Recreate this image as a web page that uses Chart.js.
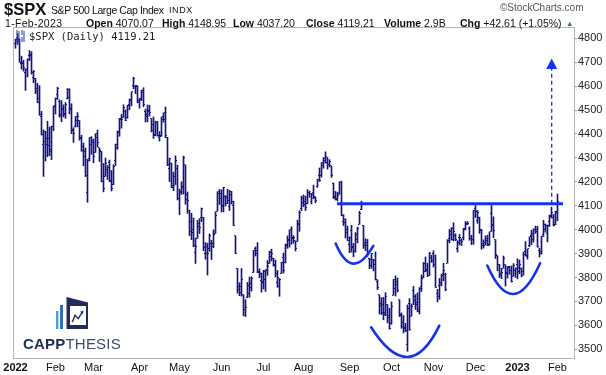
<!DOCTYPE html>
<html>
<head>
<meta charset="utf-8">
<script src="https://cdn.jsdelivr.net/npm/chart.js@4.4.1/dist/chart.umd.min.js"></script>
<style>
  html, body { margin: 0; padding: 0; background: #fff; }
  #wrap { position: relative; width: 606px; height: 375px; overflow: hidden; font-family: "Liberation Sans", Arial, sans-serif; color: #111; }
  #wrap canvas { position: absolute; left: 0; top: 0; }
  .t { position: absolute; white-space: nowrap; line-height: 1; }
  .b { font-weight: bold; }
</style>
</head>
<body>
<div id="wrap">
  <canvas id="spx" width="606" height="375"></canvas>

  <!-- en-tete -->
  <div class="t b" style="left:4px; top:1px; font-size:16.5px;">$SPX</div>
  <div class="t" style="left:51px; top:5px; font-size:10.5px; letter-spacing:-0.4px;">S&amp;P 500 Large Cap Index</div>
  <div class="t" style="left:169px; top:6px; font-size:9px; letter-spacing:0.6px;">INDX</div>
  <div class="t" style="left:500px; top:3px; font-size:10px; color:#555;">&copy;StockCharts.com</div>

  <div class="t" style="left:5px; top:18px; font-size:10.5px; letter-spacing:0.3px;">1-Feb-2023</div>
  <div class="t" style="left:86px; top:18px; font-size:10.5px;"><span class="b">Open</span> 4070.07</div>
  <div class="t" style="left:162px; top:18px; font-size:10.5px;"><span class="b">High</span> 4148.95</div>
  <div class="t" style="left:233px; top:18px; font-size:10.5px;"><span class="b">Low</span> 4037.20</div>
  <div class="t" style="left:306px; top:18px; font-size:10.5px;"><span class="b">Close</span> 4119.21</div>
  <div class="t" style="left:384px; top:18px; font-size:10.5px;"><span class="b">Volume</span> 2.9B</div>
  <div class="t" style="left:460px; top:18px; font-size:10.5px;"><span class="b">Chg</span> +42.61 (+1.05%)</div>
  <div class="t" style="left:566px; top:20px; font-size:7.5px; color:#2e8b3a;">&#9650;</div>

  <!-- legende dans le graphique -->
  <svg class="t" style="left:16px; top:30px;" width="10" height="12">
    <path d="M1 0v5M3 1v5M6 0v5M8 1v5M1 7v5M3 6v6M6 7v5M8 6v6" stroke="#2233bb" stroke-width="1"/>
  </svg>
  <div class="t" style="left:29px; top:31px; font-size:10.5px; font-family:'DejaVu Sans Mono', monospace; color:#222;">$SPX (Daily) 4119.21</div>

  <!-- logo -->
  <svg class="t" style="left:50px; top:292px;" width="45" height="40">
    <rect x="6" y="19" width="2.5" height="18" fill="#5b9bd8"/>
    <rect x="10" y="13" width="3" height="24" fill="#2f6fb8"/>
    <polygon points="16.5,5 38,10.5 38,37 16.5,37" fill="#1f2c5c"/>
    <rect x="20" y="14" width="16" height="19" fill="#fff"/>
    <polyline points="22.3,30 25,23.3 28.3,26.7 32,20.5" fill="none" stroke="#1f2c5c" stroke-width="1.4"/>
    <polygon points="33.5,18.5 30.2,19.8 32.8,22.2" fill="#1f2c5c"/>
  </svg>
  <div class="t" style="left:23px; top:336px; font-size:15px; letter-spacing:0.2px;"><span class="b" style="color:#1f2c5c;">CAPP</span><span style="color:#3d4b74;">THESIS</span></div>
</div>

<script>
// Jours de bourse par mois (jan 2022 -> 1 fev 2023)
const moisEtiquettes = ['2022', 'Feb', 'Mar', 'Apr', 'May', 'Jun', 'Jul', 'Aug', 'Sep', 'Oct', 'Nov', 'Dec', '2023', 'Feb'];
const joursParMois = [
    [3,4,5,6,7,10,11,12,13,14,18,19,20,21,24,25,26,27,28,31],
    [1,2,3,4,7,8,9,10,11,14,15,16,17,18,22,23,24,25,28],
    [1,2,3,4,7,8,9,10,11,14,15,16,17,18,21,22,23,24,25,28,29,30,31],
    [1,4,5,6,7,8,11,12,13,14,18,19,20,21,22,25,26,27,28,29],
    [2,3,4,5,6,9,10,11,12,13,16,17,18,19,20,23,24,25,26,27,31],
    [1,2,3,6,7,8,9,10,13,14,15,16,17,21,22,23,24,27,28,29,30],
    [1,5,6,7,8,11,12,13,14,15,18,19,20,21,22,25,26,27,28,29],
    [1,2,3,4,5,8,9,10,11,12,15,16,17,18,19,22,23,24,25,26,29,30,31],
    [1,2,6,7,8,9,12,13,14,15,16,19,20,21,22,23,26,27,28,29,30],
    [3,4,5,6,7,10,11,12,13,14,17,18,19,20,21,24,25,26,27,28,31],
    [1,2,3,4,7,8,9,10,11,14,15,16,17,18,21,22,23,25,28,29,30],
    [1,2,5,6,7,8,9,12,13,14,15,16,19,20,21,22,23,27,28,29,30],
    [3,4,5,6,9,10,11,12,13,17,18,19,20,23,24,25,26,27,30,31],
    [1]
];

// Cours OHLC quotidiens du $SPX
const ouvertures = [
    4778.14,4804.51,4787.99,4693.39,4697.66,4655.34,4669.14,4728.59,4733.56,4637.99,4632.24,4588.03,4547.35,4471.38,4356.32,4366.64,4380.58,4380.58,4336.19,4431.79,
    4519.57,4566.39,4535.41,4482.79,4505.75,4480.02,4547.00,4553.24,4506.27,4412.61,4429.28,4455.75,4456.06,4384.57,4332.74,4324.93,4155.77,4298.38,4354.17,
    4363.14,4322.56,4401.31,4342.12,4327.01,4202.66,4223.10,4252.55,4279.50,4202.75,4188.82,4288.14,4345.11,4407.34,4462.40,4469.10,4493.10,4469.98,4522.66,4541.09,4602.86,4599.02,4599.61,
    4540.32,4547.97,4572.45,4494.17,4474.65,4494.15,4462.64,4437.59,4394.30,4449.12,4385.63,4390.63,4472.26,4489.17,4385.83,4255.34,4278.14,4186.52,4222.58,4253.75,
    4130.61,4159.78,4181.18,4270.43,4128.17,4081.27,4035.18,3990.08,3903.95,3963.90,4013.02,4052.00,4051.98,3899.00,3927.76,3919.42,3942.94,3929.59,3984.60,4077.43,4151.09,
    4149.78,4095.41,4137.57,4134.72,4096.47,4147.12,4101.65,3974.39,3838.15,3763.52,3764.05,3728.18,3665.90,3715.31,3733.89,3774.71,3821.75,3920.76,3913.00,3825.09,3785.99,
    3781.00,3792.61,3831.98,3858.85,3888.26,3880.94,3851.95,3779.67,3763.99,3818.00,3883.79,3860.73,3935.32,3955.47,4000.20,3965.72,3953.22,3951.43,4026.13,4087.33,
    4112.38,4104.21,4107.96,4154.85,4115.87,4155.93,4133.11,4181.02,4227.40,4225.02,4269.37,4290.46,4280.40,4273.13,4266.31,4195.08,4133.09,4126.55,4153.26,4198.74,4034.58,4041.25,4000.67,
    3936.73,3994.66,3930.89,3909.43,3959.94,4022.94,4083.67,4017.88,3940.73,3932.41,3880.95,3849.91,3875.23,3871.40,3782.36,3727.14,3682.72,3686.44,3651.94,3687.01,3633.48,
    3609.78,3726.46,3753.25,3771.97,3706.74,3644.78,3595.86,3590.83,3520.37,3690.41,3638.65,3746.26,3703.11,3689.05,3657.10,3762.01,3799.44,3825.97,3834.69,3808.26,3881.85,
    3901.79,3852.90,3733.25,3766.98,3780.71,3817.02,3810.94,3859.89,3963.72,3977.97,4006.41,3976.82,3919.26,3966.39,3956.23,3965.51,4000.30,4023.34,4005.36,3964.19,3957.18,
    4087.14,4040.17,4052.02,3996.63,3933.28,3947.79,3954.17,3939.29,4069.38,4015.54,3958.37,3890.91,3853.79,3810.47,3839.49,3853.26,3815.11,3843.34,3829.56,3805.45,3829.06,
    3853.29,3840.36,3839.74,3823.37,3910.82,3888.57,3932.35,3977.57,3960.60,3999.28,4002.25,3911.84,3909.04,3978.14,4001.74,3982.71,4036.08,4053.72,4049.27,4020.85,
    4070.07
];
const hauts = [
    4796.64,4818.62,4797.70,4725.01,4707.95,4673.02,4714.13,4748.83,4744.13,4665.13,4632.24,4611.55,4602.11,4494.52,4417.35,4411.01,4453.23,4428.74,4432.72,4516.89,
    4550.49,4595.31,4542.88,4539.66,4521.86,4531.32,4590.03,4588.92,4526.33,4426.22,4472.77,4489.55,4456.06,4394.60,4362.12,4341.51,4294.73,4385.34,4388.84,
    4378.45,4401.48,4416.78,4342.12,4327.01,4276.94,4299.40,4268.28,4291.01,4247.57,4271.05,4357.86,4412.67,4465.40,4481.75,4522.00,4501.07,4520.58,4546.03,4575.65,4637.30,4603.07,4601.34,
    4548.70,4583.50,4593.45,4503.94,4521.16,4520.41,4464.35,4471.00,4453.92,4452.77,4410.31,4471.03,4488.29,4512.94,4385.83,4299.02,4278.14,4240.71,4308.45,4269.68,
    4169.81,4200.10,4307.66,4270.43,4157.69,4081.27,4068.82,4049.09,3964.80,4038.88,4046.46,4090.72,4051.98,3945.96,3943.42,3981.88,3955.68,3999.33,4075.14,4158.49,4168.34,
    4166.54,4177.51,4142.67,4168.78,4164.86,4160.14,4119.10,3974.39,3838.15,3778.18,3837.56,3728.18,3707.71,3779.65,3801.79,3802.58,3913.65,3927.72,3945.86,3836.50,3818.99,
    3829.82,3832.19,3870.91,3910.63,3918.50,3880.94,3873.41,3829.44,3796.41,3863.62,3902.44,3939.81,3974.13,3999.29,4012.44,3975.30,3953.22,4039.56,4078.95,4140.15,
    4144.95,4140.47,4167.66,4161.29,4151.58,4186.62,4137.30,4211.03,4257.91,4280.47,4301.79,4325.28,4302.18,4292.53,4266.31,4195.08,4159.77,4156.56,4200.54,4203.04,4062.99,4044.98,4015.37,
    3970.23,4018.43,3942.55,3987.89,4010.50,4076.81,4119.28,4017.88,3961.94,3959.14,3880.95,3900.45,3876.01,3907.07,3790.68,3727.14,3715.67,3717.53,3736.74,3687.01,3671.44,
    3698.35,3791.92,3806.91,3797.93,3706.74,3652.17,3640.66,3608.34,3685.41,3712.00,3689.73,3762.79,3728.58,3736.00,3757.89,3810.74,3862.85,3886.15,3859.95,3905.42,3893.73,
    3911.79,3894.44,3750.59,3796.34,3813.95,3859.40,3818.20,3958.33,4001.48,4008.97,4028.84,3983.09,3954.33,3979.89,3962.00,4005.88,4033.78,4034.02,4012.27,3976.77,4080.11,
    4100.51,4080.48,4052.45,4001.51,3957.57,3974.19,3977.02,3990.71,4100.96,4053.76,3958.37,3890.91,3854.86,3838.24,3889.82,3853.26,3845.80,3846.65,3848.32,3858.19,3839.85,
    3878.46,3873.16,3839.74,3906.19,3950.57,3919.83,3970.07,3997.76,4003.95,4015.39,4014.16,3922.94,3972.96,4039.31,4023.92,4019.55,4061.57,4094.21,4063.85,4077.16,
    4148.95
];
const bas = [
    4758.17,4774.27,4699.44,4671.26,4662.74,4582.24,4638.27,4706.71,4650.29,4614.75,4568.70,4530.20,4477.95,4395.34,4222.62,4287.11,4304.80,4309.50,4292.46,4414.02,
    4483.53,4544.32,4470.39,4451.50,4471.47,4465.40,4547.00,4484.31,4401.41,4364.84,4429.28,4429.68,4373.81,4327.22,4267.11,4221.51,4114.65,4286.83,4315.12,
    4279.54,4322.56,4345.56,4284.98,4199.85,4157.87,4223.10,4209.80,4200.49,4161.72,4187.90,4267.92,4335.65,4390.57,4424.30,4469.10,4455.81,4465.17,4501.07,4517.69,4589.66,4569.01,4530.41,
    4507.57,4539.21,4514.17,4450.04,4450.30,4474.60,4408.38,4381.34,4392.70,4390.58,4370.30,4390.63,4448.76,4384.47,4267.62,4200.82,4175.04,4162.90,4188.63,4124.28,
    4062.51,4147.08,4148.91,4106.01,4067.91,3975.48,3958.17,3928.82,3858.87,3963.90,3983.99,4033.93,3911.91,3876.58,3810.32,3909.04,3875.13,3925.03,3984.60,4077.43,4104.88,
    4073.85,4074.37,4098.67,4109.18,4080.19,4107.20,4017.17,3900.16,3734.30,3724.01,3722.30,3639.77,3636.87,3715.31,3717.69,3743.52,3821.75,3889.66,3820.14,3799.02,3738.67,
    3752.10,3742.06,3809.37,3858.85,3869.34,3847.22,3802.36,3759.07,3721.56,3817.18,3818.63,3860.73,3922.03,3926.63,3938.85,3943.46,3910.74,3951.43,3992.97,4079.22,
    4096.02,4079.81,4107.96,4135.42,4107.31,4128.97,4112.09,4177.26,4201.41,4219.78,4256.90,4277.77,4253.08,4261.98,4218.70,4129.86,4124.03,4119.97,4147.59,4057.66,4017.42,3965.21,3954.53,
    3903.65,3906.21,3886.75,3906.03,3944.81,4022.94,4083.67,3921.58,3912.24,3888.28,3837.08,3838.50,3827.54,3789.49,3749.45,3647.47,3644.76,3623.29,3640.61,3610.40,3584.13,
    3604.93,3726.46,3722.66,3739.22,3636.66,3588.10,3568.45,3573.86,3491.58,3579.68,3638.65,3686.53,3666.51,3656.44,3647.42,3741.65,3799.44,3824.07,3803.79,3808.26,3863.18,
    3843.80,3758.68,3698.15,3708.84,3764.70,3786.28,3744.22,3859.89,3944.82,3956.40,3953.17,3954.34,3906.54,3935.98,3933.34,3956.88,3998.66,4020.76,3955.77,3937.65,3938.58,
    4050.87,4026.63,3984.49,3918.39,3922.68,3935.83,3933.04,3935.30,3993.03,3965.65,3879.45,3827.91,3800.04,3795.62,3839.49,3764.49,3797.01,3813.22,3780.78,3805.45,3800.34,
    3794.33,3815.77,3802.42,3809.56,3890.42,3877.29,3928.54,3937.56,3947.67,3984.57,3926.59,3885.54,3897.86,3971.64,3989.79,3949.06,4013.29,4048.70,4015.55,4020.44,
    4037.20
];
const clotures = [
    4796.56,4793.54,4700.58,4696.05,4677.03,4670.29,4713.07,4726.35,4659.03,4662.85,4577.11,4532.76,4482.73,4397.94,4410.13,4356.45,4349.93,4326.51,4431.85,4515.55,
    4546.54,4589.38,4477.44,4500.53,4483.87,4521.54,4587.18,4504.08,4418.64,4401.67,4471.07,4475.01,4380.26,4348.87,4304.76,4225.50,4288.70,4384.65,4373.94,
    4306.26,4386.54,4363.49,4328.87,4201.09,4170.70,4277.88,4259.52,4204.31,4173.11,4262.45,4357.86,4411.67,4463.12,4461.18,4511.61,4456.24,4520.16,4543.06,4575.52,4631.60,4602.45,4530.41,
    4545.86,4582.64,4525.12,4481.15,4500.21,4488.28,4412.53,4397.45,4446.59,4392.59,4391.69,4462.21,4459.45,4393.66,4271.78,4296.12,4175.20,4183.96,4287.50,4131.93,
    4155.38,4175.48,4300.17,4146.87,4123.34,3991.24,4001.05,3935.18,3930.08,4023.89,4008.01,4088.85,3923.68,3900.79,3901.36,3973.75,3941.48,3978.73,4057.84,4158.24,4132.15,
    4101.23,4176.82,4108.54,4121.43,4160.68,4115.77,4017.82,3900.86,3749.63,3735.48,3789.99,3666.77,3674.84,3764.79,3759.89,3795.73,3911.74,3900.11,3821.55,3818.83,3785.38,
    3825.33,3831.39,3845.08,3902.62,3899.38,3854.43,3818.80,3801.78,3790.38,3863.16,3830.85,3936.69,3959.90,3998.95,3961.63,3966.84,3921.05,4023.61,4072.43,4130.29,
    4118.63,4091.19,4155.17,4151.94,4145.19,4140.06,4122.47,4210.24,4207.27,4280.15,4297.14,4305.20,4274.04,4283.74,4228.48,4137.99,4128.73,4140.77,4199.12,4057.66,4030.61,3986.16,3955.00,
    3966.85,3924.26,3908.19,3979.87,4006.18,4067.36,4110.41,3932.69,3946.01,3901.35,3873.33,3899.89,3855.93,3789.93,3757.99,3693.23,3655.04,3647.29,3719.04,3640.47,3585.62,
    3678.43,3790.93,3783.28,3744.52,3639.66,3612.39,3588.84,3577.03,3669.91,3583.07,3677.95,3719.98,3695.16,3665.78,3752.75,3797.34,3859.11,3830.60,3807.30,3901.06,3871.98,
    3856.10,3759.69,3719.89,3770.55,3806.80,3828.11,3748.57,3956.37,3992.93,3957.25,3991.73,3958.79,3946.56,3965.34,3949.94,4003.58,4027.26,4026.12,3963.94,3957.63,4080.11,
    4076.57,4071.70,3998.84,3941.26,3933.92,3963.51,3934.38,3990.56,4019.65,3995.32,3895.75,3852.36,3817.66,3821.62,3878.44,3822.39,3844.82,3829.25,3783.22,3849.28,3839.50,
    3824.14,3852.97,3808.10,3895.08,3892.09,3919.25,3969.61,3983.17,3999.09,3990.97,3928.86,3898.85,3972.61,4019.81,4016.95,4016.22,4060.43,4070.56,4017.77,4076.60,
    4119.21
];

// Graduations de l'axe des prix
const prixTicks = [3500, 3600, 3700, 3800, 3900, 4000, 4100, 4200, 4300, 4400, 4500, 4600, 4700, 4800];

// Figures tracees a la main (index de seance, prix)
const ligneCou = { de: 160.75, a: 273.75, prix: 4108 };
const objectif = { x: 268.1, de: 4108, base: 4672, pointe: 4716, demiLargeur: 2.75 };
const arcs = [
    [[160.1, 3942], [168.9, 3858], [178.9, 3932]],
    [[177.8, 3592], [195.9, 3468], [211.9, 3599]],
    [[235.9, 3850], [248.9, 3731], [262.3, 3860]]
];

const couleurBarre = '#14148a';
const bleuTrace = '#1432f0';

// Debut de chaque mois = position des etiquettes de l'axe x
const debutsMois = [];
let compteur = 0;
joursParMois.forEach(j => { debutsMois.push(compteur); compteur += j.length; });

// Petits traits ouverture (gauche) / cloture (droite)
const traitsOHLC = {
    id: 'traitsOHLC',
    afterDatasetsDraw(chart) {
        const { ctx, scales: { x, y } } = chart;
        ctx.save();
        ctx.fillStyle = couleurBarre;
        ouvertures.forEach((o, i) => {
            const col = Math.round(x.getPixelForValue(i) - 0.5);
            ctx.fillRect(col - 1, Math.round(y.getPixelForValue(o) - 0.5), 1, 1);
            ctx.fillRect(col + 1, Math.round(y.getPixelForValue(clotures[i]) - 0.5), 1, 1);
        });
        ctx.restore();
    }
};

// Epaule-tete-epaule + objectif
const figures = {
    id: 'figures',
    afterDatasetsDraw(chart) {
        const { ctx, scales: { x, y } } = chart;
        const px = v => x.getPixelForValue(v);
        const py = v => y.getPixelForValue(v);
        ctx.save();
        ctx.strokeStyle = bleuTrace;
        ctx.fillStyle = bleuTrace;

        // ligne de cou
        ctx.lineWidth = 3;
        ctx.beginPath();
        ctx.moveTo(px(ligneCou.de), py(ligneCou.prix));
        ctx.lineTo(px(ligneCou.a), py(ligneCou.prix));
        ctx.stroke();

        // arcs
        ctx.lineWidth = 2.6;
        ctx.lineCap = 'round';
        arcs.forEach(([d, m, f]) => {
            const x0 = px(d[0]), y0 = py(d[1]);
            const x1 = px(m[0]), y1 = py(m[1]);
            const x2 = px(f[0]), y2 = py(f[1]);
            const cx = 2 * x1 - (x0 + x2) / 2;
            const cy = 2 * y1 - (y0 + y2) / 2;
            ctx.beginPath();
            ctx.moveTo(x0, y0);
            ctx.quadraticCurveTo(cx, cy, x2, y2);
            ctx.stroke();
        });

        // objectif en pointilles + fleche
        ctx.lineWidth = 1.3;
        ctx.lineCap = 'butt';
        ctx.setLineDash([4, 3]);
        ctx.beginPath();
        ctx.moveTo(px(objectif.x), py(objectif.de));
        ctx.lineTo(px(objectif.x), py(objectif.base));
        ctx.stroke();
        ctx.setLineDash([]);
        ctx.beginPath();
        ctx.moveTo(px(objectif.x), py(objectif.pointe));
        ctx.lineTo(px(objectif.x - objectif.demiLargeur), py(objectif.base));
        ctx.lineTo(px(objectif.x + objectif.demiLargeur), py(objectif.base));
        ctx.closePath();
        ctx.fill();
        ctx.restore();
    }
};

// Cadre gris autour de la zone de trace
const cadre = {
    id: 'cadre',
    afterDraw(chart) {
        const { ctx, chartArea: a } = chart;
        ctx.save();
        ctx.strokeStyle = '#b4b4b4';
        ctx.lineWidth = 1;
        ctx.strokeRect(a.left - 0.5, a.top - 0.5, a.right - a.left + 1, a.bottom - a.top + 1);
        ctx.restore();
    }
};

const ctx = document.getElementById('spx').getContext('2d');
new Chart(ctx, {
    type: 'bar',
    data: {
        datasets: [{
            data: ouvertures.map((o, i) => ({ x: i, y: [bas[i], hauts[i]] })),
            backgroundColor: couleurBarre,
            borderWidth: 0,
            barThickness: 1,
            grouped: false
        }]
    },
    options: {
        responsive: false,
        animation: false,
        events: [],
        layout: { padding: { top: 28, left: 14, right: 0, bottom: 0 } },
        plugins: { legend: { display: false }, tooltip: { enabled: false } },
        scales: {
            x: {
                type: 'linear',
                offset: false,
                min: -0.75,
                max: 279.25,
                grid: { display: false, drawTicks: false, tickLength: 0 },
                border: { display: false },
                afterBuildTicks: s => { s.ticks = debutsMois.map(v => ({ value: v })); },
                afterFit: s => { s.height = 17; },
                ticks: {
                    autoSkip: false,
                    maxRotation: 0,
                    padding: 3,
                    color: '#111',
                    callback: v => moisEtiquettes[debutsMois.indexOf(v)],
                    font: c => ({
                        family: '"Liberation Sans", Arial, sans-serif',
                        size: 11,
                        weight: (c.tick && (c.tick.value === 0 || c.tick.value === 251)) ? 'bold' : 'normal'
                    })
                }
            },
            y: {
                position: 'right',
                min: 3463.6,
                max: 4843,
                grid: { display: true, drawOnChartArea: false, tickLength: 3, color: '#999' },
                border: { display: false },
                afterBuildTicks: s => { s.ticks = prixTicks.map(v => ({ value: v })); },
                afterFit: s => { s.width = 32; },
                ticks: {
                    padding: 1,
                    color: '#222',
                    font: { family: '"Liberation Sans", Arial, sans-serif', size: 11 },
                    callback: v => String(v)
                }
            }
        }
    },
    plugins: [traitsOHLC, figures, cadre]
});
</script>
</body>
</html>
